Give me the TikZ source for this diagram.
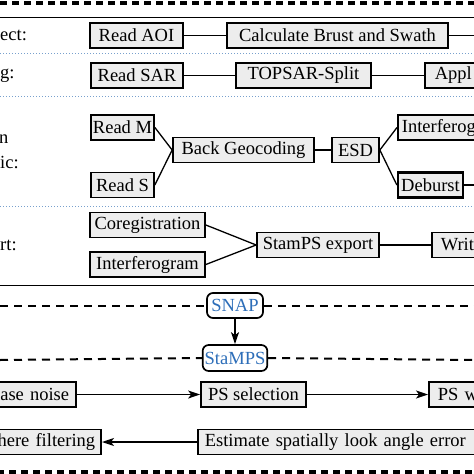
\documentclass[tikz,border=0pt]{standalone}
\usepackage{fontspec}
\setmainfont{Liberation Serif}
\usetikzlibrary{arrows.meta}

\definecolor{boxgray}{gray}{0.93}
\definecolor{sepblue}{RGB}{120,160,205}
\definecolor{toolblue}{RGB}{45,110,185}

\tikzset{
  blk/.style={draw, fill=boxgray, line width=1.7pt, minimum height=25pt, inner ysep=1pt,
    inner xsep=6pt, font=\fontsize{18.5}{22}\selectfont},
  cutl/.style={blk, anchor=west, text width=110pt, align=left},
  cutr/.style={blk, anchor=east, text width=110pt, align=right},
  tool/.style={draw, fill=white, rounded corners=6pt, line width=1.7pt, minimum height=25pt,
    inner xsep=2pt, inner ysep=1pt, text=toolblue, font=\fontsize{18.5}{22}\selectfont},
  lbl/.style={anchor=west, inner sep=0pt, font=\fontsize{18.5}{22}\selectfont},
  con/.style={line width=1.3pt},
  arr/.style={line width=1.3pt, -{Stealth[length=12pt,width=8pt,inset=3pt]}},
  sepdot/.style={sepblue, line width=1pt, dotted},
  sepdash/.style={line width=2pt, dash pattern=on 8pt off 6pt}
}

\begin{document}
\begin{tikzpicture}[x=1pt,y=-1pt]
  \useasboundingbox (0,0) rectangle (474,474);
  \clip (0,0) rectangle (474,474);

  % frame lines
  \foreach \xx in {0,12,...,468}
    \fill (\xx,0.5) rectangle ++(7,4);
  \foreach \xx in {-3,9,...,468}
    \fill (\xx,470) rectangle ++(7,4);
  \draw[line width=0.9pt] (0,17) -- (474,17);
  \draw[sepdot] (0,53) -- (474,53);
  \draw[sepdot] (0,96) -- (474,96);
  \draw[sepdot] (0,206) -- (474,206);
  \draw[line width=0.9pt] (0,285) -- (474,285);

  % left labels
  \node[lbl] (l1) at (0,35.5) {ect:};
  \node[lbl] (l2) at (0,75.5) {g:};
  \node[lbl] (l3a) at (-1,139) {n};
  \node[lbl] (l3b) at (0,163) {ic:};
  \node[lbl] (l4) at (0,245) {rt:};

  % row 1
  \node[blk, minimum width=93pt] (readaoi) at (136.5,35.5) {Read AOI};
  \node[blk, minimum width=221pt] (calc) at (337.5,35.5) {Calculate Brust and Swath};
  \coordinate (c1) at (480,35.5);
  \draw[con] (readaoi) -- (calc);
  \draw[con] (calc) -- (c1);

  % row 2
  \node[blk, minimum width=92pt] (readsar) at (137,75.5) {Read SAR};
  \node[blk, minimum width=135pt] (split) at (303.5,75.5) {TOPSAR-Split};
  \node[cutl, inner xsep=10pt] (appl) at (424,75.5) {Appl};
  \draw[con] (readsar) -- (split);
  \draw[con] (split) -- (appl);

  % row 3
  \node[blk, minimum width=63pt, inner xsep=2pt] (readm) at (122.5,127.5) {Read M};
  \node[blk, minimum width=63pt, inner xsep=2pt] (reads) at (122.5,185) {Read S};
  \node[blk, minimum width=141pt] (backgeo) at (243.5,150) {Back Geocoding};
  \node[blk, minimum width=47pt, inner xsep=2pt] (esd) at (355.5,150) {ESD};
  \node[cutl, inner xsep=4pt] (interfa) at (397,127.5) {Interferog};
  \node[blk, minimum width=65pt, inner xsep=1pt, line width=2.3pt] (deburst) at (430.5,185) {Deburst};
  \coordinate (c3) at (480,185);
  \draw[con] (readm.east) -- (backgeo.west);
  \draw[con] (reads.east) -- (backgeo.west);
  \draw[con] (backgeo) -- (esd);
  \draw[con] (esd.east) -- (interfa.west);
  \draw[con] (esd.east) -- (deburst.west);
  \draw[con] (deburst) -- (c3);

  % row 4
  \node[blk, minimum width=115pt, inner xsep=2pt] (coreg) at (147.5,225) {Coregistration};
  \node[blk, minimum width=115pt] (interfb) at (147.5,264.5) {Interferogram};
  \node[blk, minimum width=122pt, inner xsep=2pt] (export) at (318,245) {StamPS export};
  \node[cutl, inner xsep=9pt] (writ) at (431,245) {Writ};
  \draw[con] (coreg.east) -- (export.west);
  \draw[con] (interfb.east) -- (export.west);
  \draw[con] (export) -- (writ);

  % tools
  \node[tool, minimum width=56pt] (snap) at (235,305.5) {SNAP};
  \node[tool, minimum width=64pt, minimum height=26pt] (stamps) at (235,358) {StaMPS};
  \coordinate (s1) at (0,305.5);
  \coordinate (s2) at (474,305.5);
  \coordinate (t1) at (0,360);
  \coordinate (t2) at (474,360);
  \draw[sepdash] (s1) -- (snap.west);
  \draw[sepdash] (snap.east) -- (s2);
  \draw[sepdash] (t1) -- (stamps.west);
  \draw[sepdash] (stamps.east) -- (t2);
  \draw[arr] (snap) -- (stamps);

  % StaMPS steps
  \node[cutr, inner xsep=7pt] (noise) at (77,394.5) {ase noise};
  \node[blk, minimum width=105pt] (pssel) at (253.5,394.5) {PS selection};
  \node[cutl, inner xsep=9pt] (psw) at (428,394.5) {PS w};
  \node[cutr, inner xsep=6pt] (filt) at (102,442) {here filtering};
  \node[blk, anchor=west, text width=290pt, align=left, inner xsep=7pt] (estim) at (197,442) {Estimate spatially look angle error};
  \draw[arr] (noise) -- (pssel);
  \draw[arr] (pssel) -- (psw);
  \draw[arr] (estim) -- (filt);
\end{tikzpicture}
\end{document}
